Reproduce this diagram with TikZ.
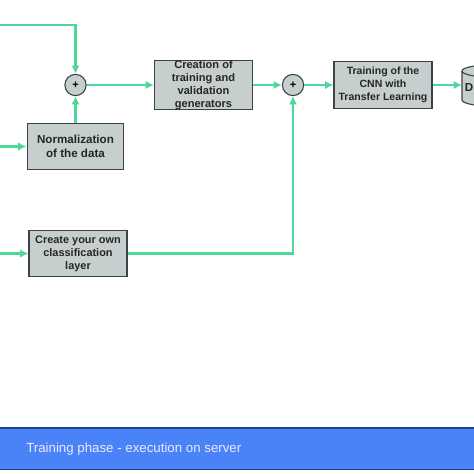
\documentclass[tikz,border=0pt]{standalone}
\usepackage{fontspec}
\setmainfont{Liberation Sans}
\usepackage{xcolor}
\usetikzlibrary{shapes.geometric, arrows.meta, positioning, calc}
\definecolor{flowgreen}{HTML}{4FD69A}
\definecolor{boxgray}{HTML}{C6CECE}
\definecolor{boxedge}{HTML}{3A4444}
\definecolor{banner}{HTML}{4A82F8}
\definecolor{banneredge}{HTML}{1F3F8F}
\tikzset{
    stepbox/.style={draw=boxedge, fill=boxgray, line width=0.8pt, align=center, font=\bfseries\fontsize{7.6}{9.4}\selectfont, text=black!85, inner sep=0pt, minimum width=2.49cm, minimum height=1.19cm},
    addnode/.style={draw=boxedge, fill=boxgray, circle, line width=0.8pt, minimum size=0.54cm, inner sep=0pt, font=\bfseries\fontsize{8}{8}\selectfont},
    flow/.style={draw=flowgreen, line width=1.5pt, -{Latex[length=6pt,width=6pt]}}
}
\begin{document}
\begin{tikzpicture}[x=0.0254cm, y=-0.0254cm]
    \useasboundingbox (0,0) rectangle (474,474);

    % Blue strip
    \node (strip) [draw=none, fill=banner, minimum width=12.04cm, minimum height=1.03cm, anchor=north west, inner sep=0pt] at (0,428) {};
    \draw [banneredge, line width=0.9pt] (strip.north west) -- (strip.north east);
    \draw [banneredge, line width=0.5pt] (strip.south west) -- (strip.south east);
    \node (strip_text) [anchor=west, inner sep=0pt, text=white!92!blue, font=\fontsize{9.6}{11}\selectfont] at (26,449) {Training phase - execution on server};

    % Boxes
    \node (norm) [stepbox, minimum width=2.46cm, font=\bfseries\fontsize{8.4}{10.6}\selectfont] at (75.5,146.5) {Normalization\\of the data};
    \node (gen) [stepbox, font=\bfseries\fontsize{8}{9.4}\selectfont] at (203.5,85) {Creation of\\training and\\validation\\generators};
    \node (cnn) [stepbox] at (383,85) {Training of the\\CNN with\\Transfer Learning};
    \node (own) [stepbox, font=\bfseries\fontsize{7.9}{9.4}\selectfont] at (78,253.5) {Create your own\\classification\\layer};

    % Adders
    \node (add_a) [addnode] at (75.5,85) {+};
    \node (add_b) [addnode] at (293,85) {+};

    % Disk
    \draw [draw=boxedge, fill=boxgray, line width=0.8pt] (462,71) arc[start angle=180, end angle=360, x radius=28, y radius=6] -- (518,100) arc[start angle=0, end angle=180, x radius=28, y radius=6] -- cycle;
    \draw [draw=boxedge, line width=0.8pt] (462,71) arc[start angle=180, end angle=0, x radius=28, y radius=6];
    \coordinate (disk_in) at (462,85);
    \node (disk_label) [anchor=east, inner sep=0pt, font=\bfseries\fontsize{8.4}{10}\selectfont, text=black!85] at (473.5,88) {D};

    % Free ends
    \coordinate (top_in) at (0,25);
    \coordinate (norm_in) at (0,146.5);
    \coordinate (own_in) at (0,253.5);

    % Connectors
    \draw [flow] (top_in) -| (add_a.north);
    \draw [flow] (norm.north) -- (add_a.south);
    \draw [flow] (norm_in) -- (norm.west);
    \draw [flow] (own_in) -- (own.west);
    \draw [flow] (add_a.east) -- (gen.west);
    \draw [flow] (gen.east) -- (add_b.west);
    \draw [flow] (add_b.east) -- (cnn.west);
    \draw [flow] (cnn.east) -- (disk_in);
    \draw [flow] (own.east) -| (add_b.south);
\end{tikzpicture}
\end{document}
